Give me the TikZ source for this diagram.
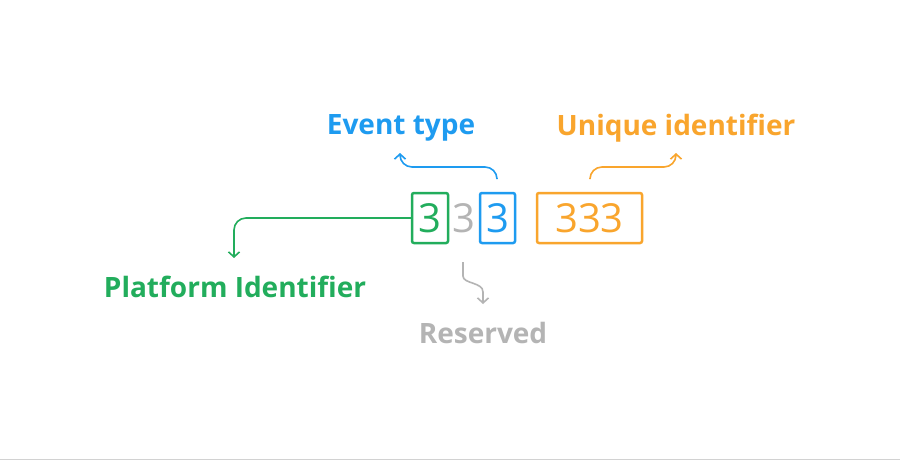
\documentclass[tikz,border=0pt]{standalone}
\usepackage{fontspec}
\setmainfont{Open Sans}
\usetikzlibrary{arrows.meta}
\definecolor{cg}{HTML}{22AD5C}
\definecolor{cb}{HTML}{1E9BF0}
\definecolor{co}{HTML}{F9A52D}
\definecolor{cr}{HTML}{B4B4B4}
\begin{document}
\begin{tikzpicture}[x=1pt,y=-1pt,
 digit/.style={font=\fontsize{40}{40}\selectfont, inner sep=0pt},
 box/.style={draw, line width=2.5pt, rounded corners=2pt, inner sep=0pt},
 lab/.style={font=\fontsize{28}{30}\selectfont\bfseries, inner sep=0pt},
 conn/.style={line width=1.6pt, rounded corners=12pt, -{Straight Barb[length=5pt,width=11pt]}}]
\useasboundingbox (0,0) rectangle (900,460);
\fill[white] (0,0) rectangle (900,460);
\draw[cr!60, line width=1pt] (0,459) -- (900,459);
\node[box, draw=cg, minimum width=36pt, minimum height=50pt] (g) at (430,218) {};
\node[digit, text=cg] at (430,218) {3};
\node[digit, text=cr] (r) at (463.5,218) {3};
\node[box, draw=cb, minimum width=35pt, minimum height=50pt] (b) at (497.5,218) {};
\node[digit, text=cb] at (497.5,218) {3};
\node[box, draw=co, minimum width=105pt, minimum height=50pt] (o) at (589.5,218) {};
\node[digit, text=co] at (589.5,218) {333};
\node[lab, text=cg] (pl) at (235,287) {Platform Identifier};
\node[lab, text=cb] (ev) at (401,128) {Event type};
\node[lab, text=co] (un) at (676,128) {Unique identifier};
\node[lab, text=cr] (re) at (483,333) {Reserved};
\coordinate (gt) at (234,258);
\coordinate (bt) at (400,153);
\coordinate (ot) at (676,153);
\coordinate (rt) at (483,304);
\draw[conn, draw=cg] (g.west) -- (234,218) -- (gt);
\draw[conn, draw=cb] (497,178) -- (497,167) -- (400,167) -- (bt);
\draw[conn, draw=co] (590,178) -- (590,167) -- (676,167) -- (ot);
\draw[line width=1.6pt, draw=cr, -{Straight Barb[length=5pt,width=11pt]}] (463,262) -- (463,276) .. controls (463,284) and (483,282) .. (483,292) -- (rt);
\end{tikzpicture}
\end{document}
